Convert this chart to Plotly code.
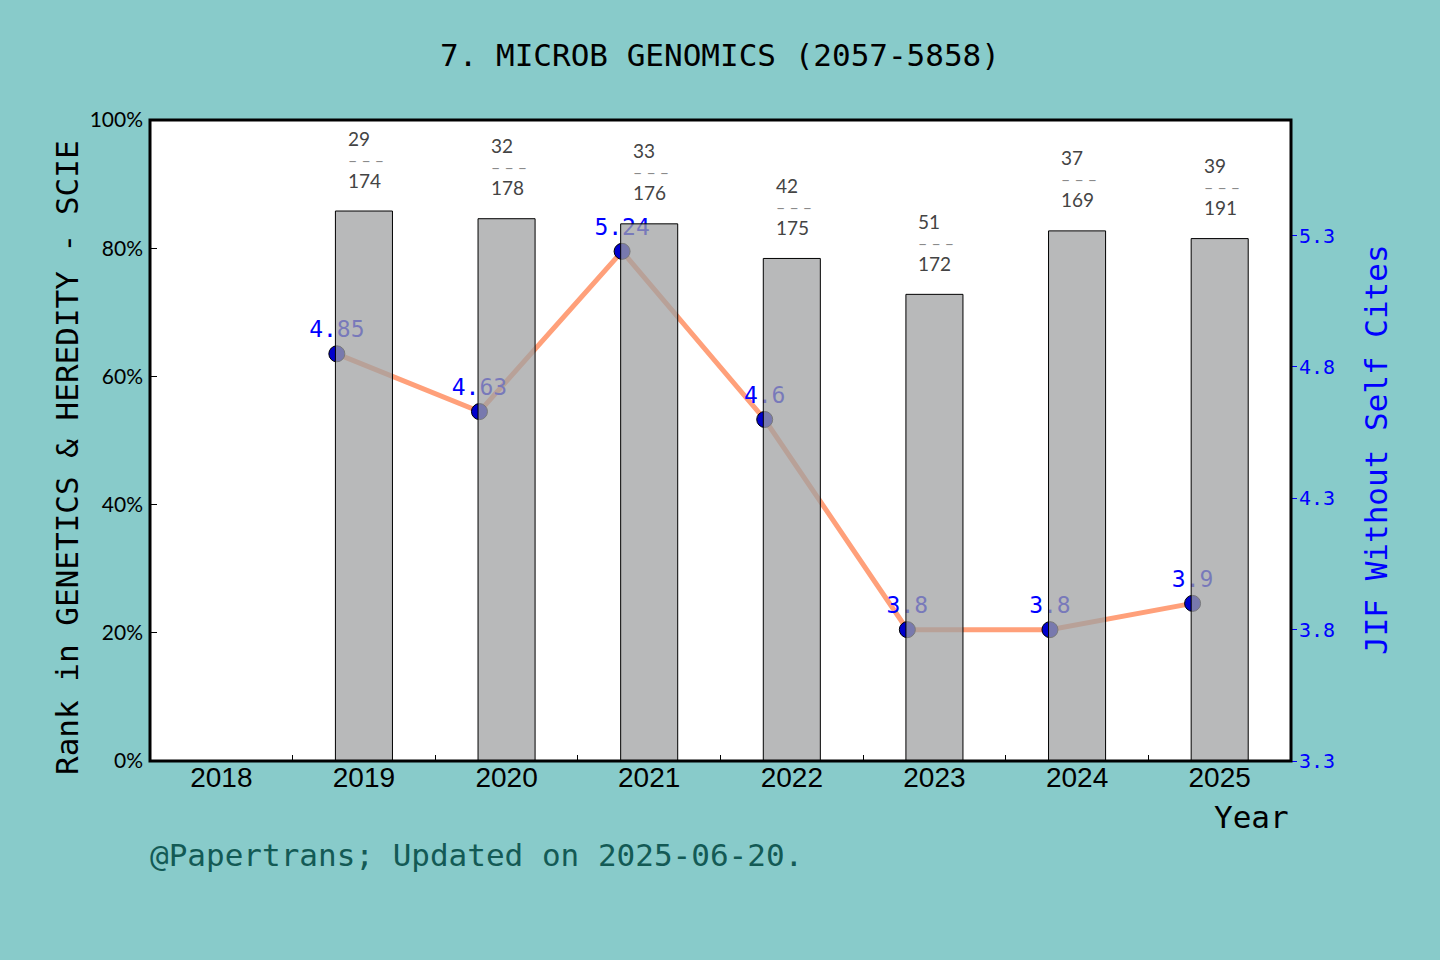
import plotly.graph_objects as go

# ---------------- data ----------------
years = [2018, 2019, 2020, 2021, 2022, 2023, 2024, 2025]
year_labels = ["2018", "2019", "2020", "2021", "2022", "2023", "2024", "2025"]
bar_years = [2019, 2020, 2021, 2022, 2023, 2024, 2025]
rank = [29, 32, 33, 42, 51, 37, 39]
total = [174, 178, 176, 175, 172, 169, 191]
rank_pct = [0.858, 0.846, 0.838, 0.784, 0.728, 0.827, 0.815]
jif = [4.85, 4.63, 5.24, 4.6, 3.8, 3.8, 3.9]
jif_labels = ["4.85", "4.63", "5.24", "4.6", "3.8", "3.8", "3.9"]
left_ticks = [0, 0.2, 0.4, 0.6, 0.8, 1.0]
left_ticktext = ["0%", "20%", "40%", "60%", "80%", "100%"]
right_ticks = [3.3, 3.8, 4.3, 4.8, 5.3]
right_ticktext = ["3.3", "3.8", "4.3", "4.8", "5.3"]

MONO = "DejaVu Sans Mono"
SANS = "Lato"
LINE_OFFSET = -0.19

line_x = [y + LINE_OFFSET for y in bar_years]

fig = go.Figure()

# line (drawn on base axis, so bars on overlaying axis sit above it)
fig.add_trace(go.Scatter(
    x=line_x, y=jif, mode="lines+markers+text",
    text=jif_labels, textposition="top center",
    textfont=dict(family=MONO, size=23, color="#0000FF"),
    line=dict(color="#FFA07A", width=5),
    marker=dict(size=16, color="#0000CD", line=dict(color="black", width=1)),
    yaxis="y", cliponaxis=False, showlegend=False, hoverinfo="skip",
))

fig.add_trace(go.Bar(
    x=bar_years, y=rank_pct, width=0.4,
    marker=dict(color="rgba(160,161,163,0.75)", line=dict(color="black", width=1)),
    yaxis="y2", showlegend=False, hoverinfo="skip",
))

annotations = []
for yr, p, r, n in zip(bar_years, rank_pct, rank, total):
    common = dict(x=yr, y=p, xref="x", yref="y2", xanchor="left", yanchor="middle",
                  xshift=-17, showarrow=False, borderpad=0)
    annotations.append(dict(text=str(r), yshift=73,
                            font=dict(family=SANS, size=19, color="#444444"), **common))
    annotations.append(dict(text="– – –", yshift=52,
                            font=dict(family=SANS, size=16, color="#8a8a8a"), **common))
    annotations.append(dict(text=str(n), yshift=31,
                            font=dict(family=SANS, size=19, color="#444444"), **common))

W, H = 1440, 960
L, R, T, B = 150, 149, 120, 199
pw, ph = W - L - R, H - T - B

def px(xpix):
    return (xpix - L) / pw

def py(ypix):
    return 1 - (ypix - T) / ph

annotations += [
    dict(text="Rank in GENETICS &amp; HEREDITY - SCIE", xref="paper", yref="paper",
         x=px(67), y=py(458), xanchor="center", yanchor="middle", textangle=-90,
         showarrow=False, font=dict(family=MONO, size=31, color="black")),
    dict(text="JIF Without Self Cites", xref="paper", yref="paper",
         x=px(1376), y=py(450), xanchor="center", yanchor="middle", textangle=-90,
         showarrow=False, font=dict(family=MONO, size=31, color="#0000FF")),
    dict(text="Year", xref="paper", yref="paper",
         x=px(1291), y=py(817), xanchor="right", yanchor="middle",
         showarrow=False, font=dict(family=MONO, size=31, color="black")),
    dict(text="@Papertrans; Updated on 2025-06-20.", xref="paper", yref="paper",
         x=px(148), y=py(855), xanchor="left", yanchor="middle",
         showarrow=False, font=dict(family=MONO, size=31, color="#135a55")),
]

fig.update_layout(
    width=W, height=H,
    margin=dict(l=L, r=R, t=T, b=B, pad=0),
    paper_bgcolor="#88CBCA", plot_bgcolor="white",
    title=dict(text="7. MICROB GENOMICS (2057-5858)", x=0.5, xref="container",
               y=1 - 55 / H, yref="container", xanchor="center", yanchor="middle",
               font=dict(family=MONO, size=31, color="black")),
    xaxis=dict(range=[2017.5, 2025.5], tickmode="array", tickvals=years, ticktext=year_labels,
               ticks="", showgrid=False, zeroline=False, showline=False,
               ticklabelstandoff=-3,
               tickfont=dict(family="Liberation Sans", size=28, color="black"),
               minor=dict(tickmode="array", tickvals=[2018.5, 2019.5, 2020.5, 2021.5, 2022.5, 2023.5, 2024.5],
                          ticks="inside", ticklen=6, tickwidth=1, tickcolor="black", showgrid=False)),
    yaxis=dict(side="right", range=[3.3, 5.74], tickmode="array", tickvals=right_ticks,
               ticktext=right_ticktext, ticks="outside", ticklen=5, tickwidth=1, tickcolor="#0000FF",
               tickfont=dict(family=MONO, size=20, color="#0000FF"), ticklabelstandoff=-2,
               showgrid=False, zeroline=False, showline=False),
    yaxis2=dict(overlaying="y", side="left", range=[0, 1], tickmode="array", tickvals=left_ticks,
                ticktext=left_ticktext, ticks="inside", ticklen=7, tickwidth=1, tickcolor="black",
                tickfont=dict(family=SANS, size=21, color="black"), ticklabelstandoff=6,
                showgrid=False, zeroline=False, showline=False),
    annotations=annotations,
    shapes=[dict(type="rect", xref="paper", yref="paper", x0=0, x1=1, y0=0, y1=1,
                 line=dict(color="black", width=3), fillcolor="rgba(0,0,0,0)", layer="above")],
    showlegend=False,
)

fig.write_html("out.html")
